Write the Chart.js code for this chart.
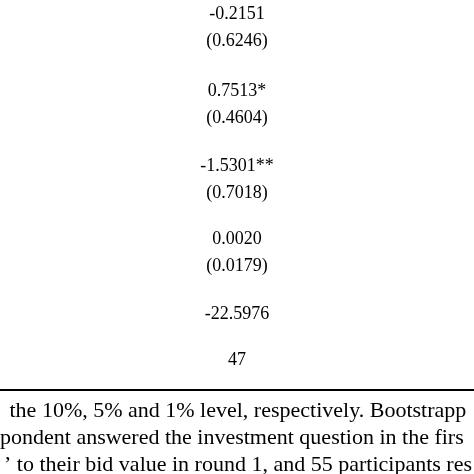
<!DOCTYPE html>
<html>
<head>
<meta charset="utf-8">
<script src="https://cdn.jsdelivr.net/npm/chart.js@4"></script>
<style>
  html, body { margin: 0; padding: 0; background: #fff; }
  #wrap { width: 474px; height: 474px; }
</style>
</head>
<body>
<div id="wrap"><canvas id="tableChart"></canvas></div>
<script>
// Table content (regression column)
const coefficients = ["-0.2151", "0.7513*", "-1.5301**", "0.0020", "-22.5976", "47"];
const standardErrors = ["(0.6246)", "(0.4604)", "(0.7018)", "(0.0179)", null, null];
const rowCenters = [28, 105, 180, 253, 314, 360];
const footnotes = [
    " the 10%, 5% and 1% level, respectively. Bootstrapp",
    "pondent answered the investment question in the firs",
    "’ to their bid value in round 1, and 55 participants res",
];
const footnoteRows = [411, 438, 465];

// Draws the table text using the chart's scales
const tablePlugin = {
    id: "tableText",
    afterDraw(chart) {
        const ctx = chart.ctx;
        const x = chart.scales.x;
        const y = chart.scales.y;
        ctx.save();
        ctx.fillStyle = "#000";
        ctx.font = '18px "Liberation Serif", "DejaVu Serif", serif';
        ctx.textBaseline = "middle";
        ctx.textAlign = "center";
        coefficients.forEach((c, i) => {
            const hasSe = standardErrors[i] !== null;
            ctx.fillText(c, x.getPixelForValue(237), y.getPixelForValue(hasSe ? rowCenters[i] - 14 : rowCenters[i]));
            if (hasSe) ctx.fillText(standardErrors[i], x.getPixelForValue(237), y.getPixelForValue(rowCenters[i] + 13));
        });
        // rule
        ctx.strokeStyle = "#000";
        ctx.lineWidth = 2;
        ctx.beginPath();
        ctx.moveTo(x.getPixelForValue(0), y.getPixelForValue(390));
        ctx.lineTo(x.getPixelForValue(474), y.getPixelForValue(390));
        ctx.stroke();
        // footnotes are set larger than the body
        ctx.font = '22px "Liberation Serif", "DejaVu Serif", serif';
        ctx.textAlign = "left";
        footnotes.forEach((f, i) => {
            ctx.fillText(f, x.getPixelForValue(i === 1 ? 0 : 4), y.getPixelForValue(footnoteRows[i]));
        });
        ctx.restore();
    },
};

new Chart(document.getElementById("tableChart"), {
    type: "scatter",
    data: { datasets: [{ data: [], pointRadius: 0 }] },
    options: {
        responsive: true,
        maintainAspectRatio: false,
        animation: false,
        layout: { padding: 0 },
        plugins: { legend: { display: false }, tooltip: { enabled: false } },
        scales: {
            x: { type: "linear", min: 0, max: 474, display: false },
            y: { type: "linear", min: 0, max: 474, reverse: true, display: false },
        },
    },
    plugins: [tablePlugin],
});
</script>
</body>
</html>
